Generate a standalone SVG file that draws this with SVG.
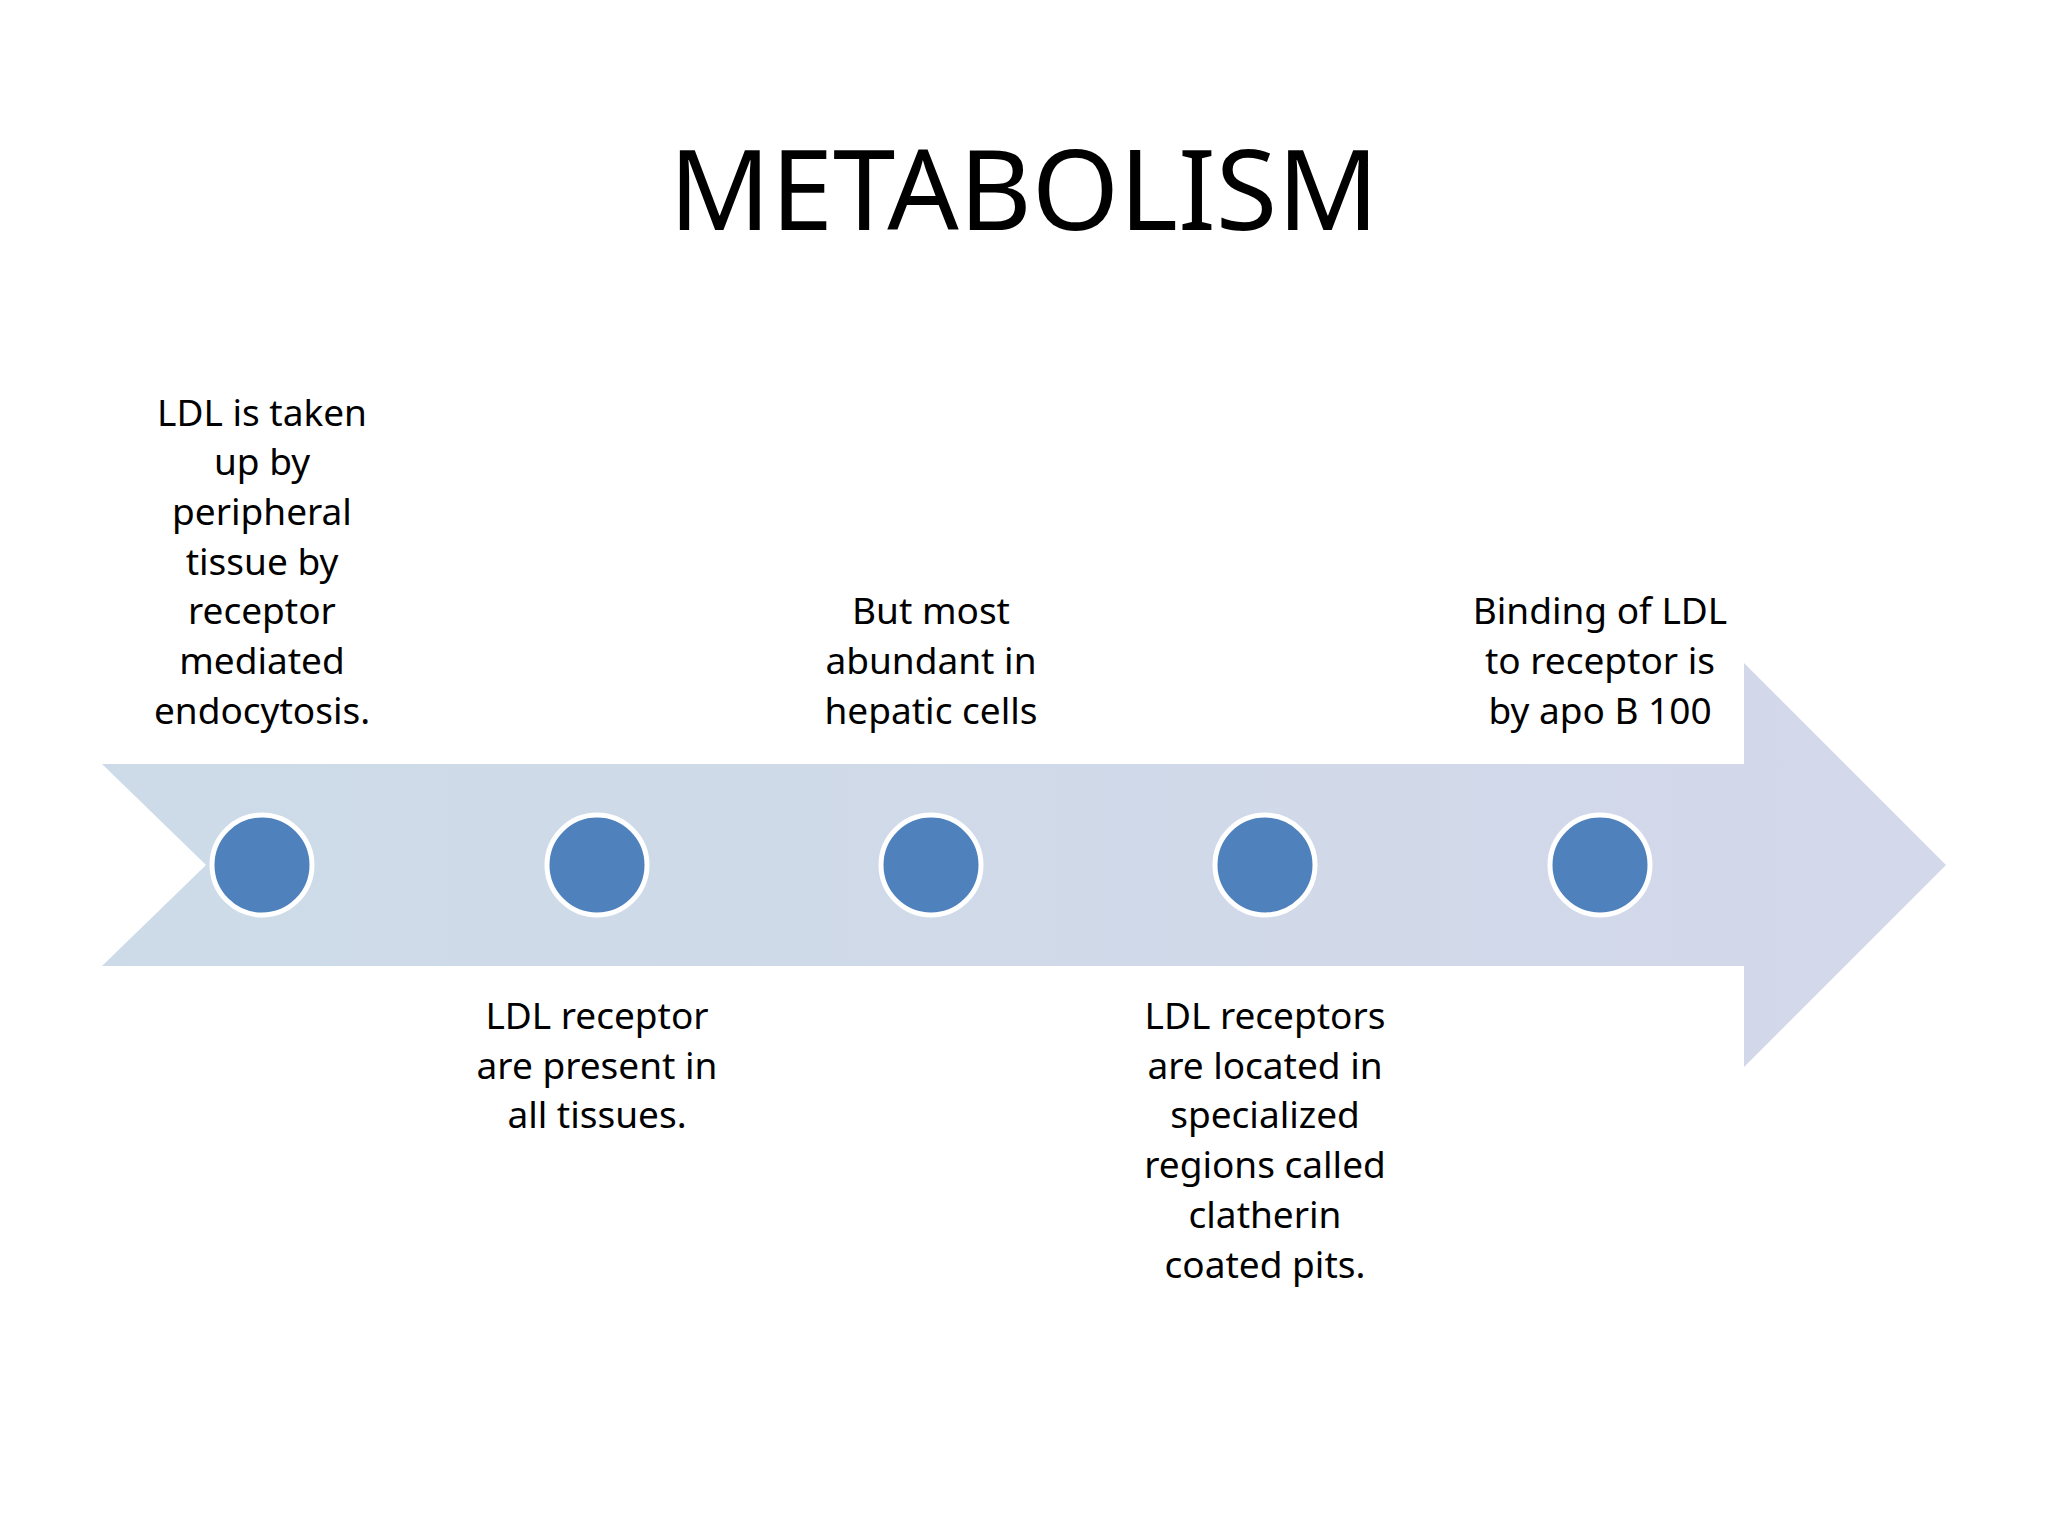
<svg xmlns="http://www.w3.org/2000/svg" width="2048" height="1536" viewBox="0 0 2048 1536">
<defs>
<linearGradient id="g" x1="0" y1="0" x2="1" y2="0"><stop offset="0" stop-color="#cddbe8"/><stop offset="1" stop-color="#d3d8ea"/></linearGradient>
<style>
.t{font-family:"Noto Sans","Open Sans",sans-serif;font-size:37px;fill:#000;text-anchor:middle}
.c{fill:#4f81bd;stroke:#fff;stroke-width:5}
</style>
</defs>
<rect width="2048" height="1536" fill="#fff"/>
<text x="1024" y="230" font-family="'Noto Sans','Open Sans',sans-serif" font-size="112" text-anchor="middle">METABOLISM</text>
<g id="connectors">
<polygon points="102,764 1744,764 1744,663 1946,865 1744,1067 1744,966 102,966 206,865" fill="url(#g)"/>
</g>
<g id="n1"><circle class="c" cx="262" cy="865" r="50"/>
<text class="t" x="262"><tspan x="262" y="426">LDL is taken</tspan><tspan x="262" y="475">up by</tspan><tspan x="262" y="525">peripheral</tspan><tspan x="262" y="575">tissue by</tspan><tspan x="262" y="624">receptor</tspan><tspan x="262" y="674">mediated</tspan><tspan x="262" y="724">endocytosis.</tspan></text></g>
<g id="n2"><circle class="c" cx="597" cy="865" r="50"/>
<text class="t"><tspan x="597" y="1029">LDL receptor</tspan><tspan x="597" y="1079">are present in</tspan><tspan x="597" y="1128">all tissues.</tspan></text></g>
<g id="n3"><circle class="c" cx="931" cy="865" r="50"/>
<text class="t"><tspan x="931" y="624">But most</tspan><tspan x="931" y="674">abundant in</tspan><tspan x="931" y="724">hepatic cells</tspan></text></g>
<g id="n4"><circle class="c" cx="1265" cy="865" r="50"/>
<text class="t"><tspan x="1265" y="1029">LDL receptors</tspan><tspan x="1265" y="1079">are located in</tspan><tspan x="1265" y="1128">specialized</tspan><tspan x="1265" y="1178">regions called</tspan><tspan x="1265" y="1228">clatherin</tspan><tspan x="1265" y="1278">coated pits.</tspan></text></g>
<g id="n5"><circle class="c" cx="1600" cy="865" r="50"/>
<text class="t"><tspan x="1600" y="624">Binding of LDL</tspan><tspan x="1600" y="674">to receptor is</tspan><tspan x="1600" y="724">by apo B 100</tspan></text></g>
</svg>
